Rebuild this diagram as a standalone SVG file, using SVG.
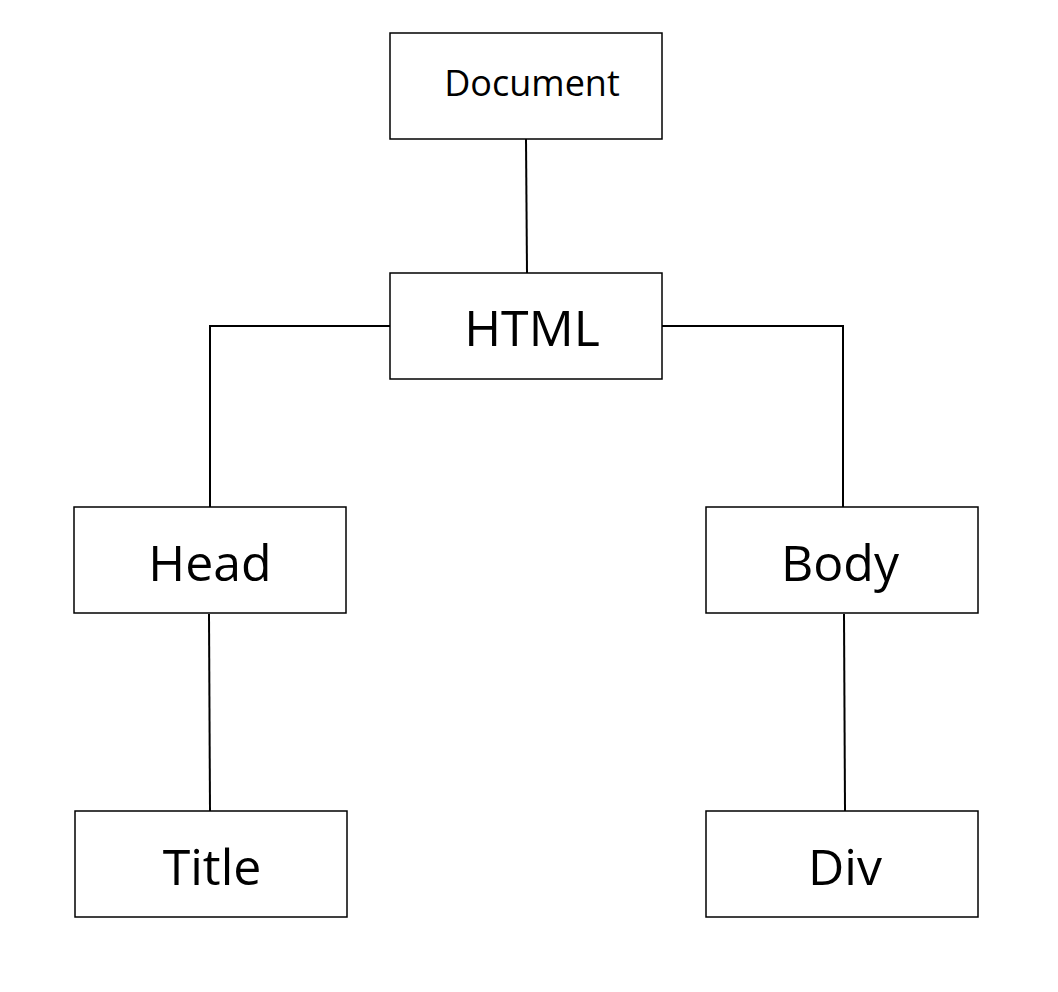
<svg xmlns="http://www.w3.org/2000/svg" width="1058" height="992" viewBox="0 0 1058 992">
<style>
rect{fill:#fff;stroke:#000;stroke-width:1.5}
text{font-family:"Open Sans","Noto Sans",sans-serif;text-anchor:middle;fill:#000}
.c line,.c path{stroke:#000;stroke-width:2;fill:none}
</style>
<rect x="0" y="0" width="1058" height="992" style="stroke:none"/>
<g class="c">
<line x1="526" y1="139" x2="527" y2="273"/>
<path d="M390 326H210V507"/>
<path d="M662 326H843V507"/>
<line x1="209" y1="614" x2="210" y2="811"/>
<line x1="844" y1="614" x2="845" y2="811"/>
</g>
<g id="document"><rect x="390" y="33" width="272" height="106"/><text x="532" y="96" font-size="36">Document</text></g>
<g id="html"><rect x="390" y="273" width="272" height="106"/><text x="532" y="346" font-size="50">HTML</text></g>
<g id="head"><rect x="74" y="507" width="272" height="106"/><text x="210" y="581" font-size="50">Head</text></g>
<g id="body"><rect x="706" y="507" width="272" height="106"/><text x="840" y="581" font-size="50">Body</text></g>
<g id="title"><rect x="75" y="811" width="272" height="106"/><text x="212" y="885" font-size="50">Title</text></g>
<g id="div"><rect x="706" y="811" width="272" height="106"/><text x="845" y="885" font-size="50">Div</text></g>
</svg>
